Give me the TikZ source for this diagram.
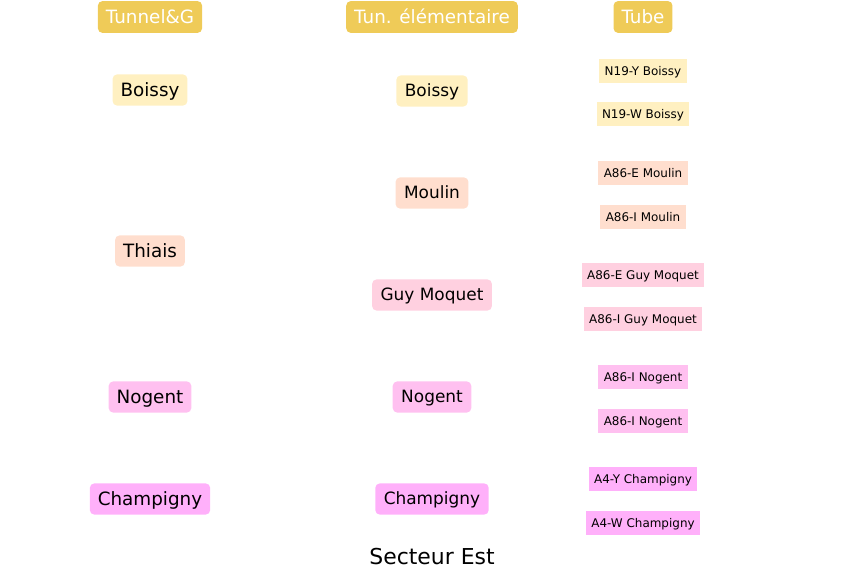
\documentclass[tikz,border=0pt]{standalone}
\usepackage{fontspec}
\setmainfont{DejaVu Sans}
\usetikzlibrary{positioning}
\definecolor{cEntete}{RGB}{239,203,88}
\definecolor{cBoissy}{RGB}{255,240,193}
\definecolor{cMoulin}{RGB}{255,222,206}
\definecolor{cGuyMoquet}{RGB}{255,208,224}
\definecolor{cNogent}{RGB}{255,192,240}
\definecolor{cChampigny}{RGB}{255,176,250}
\tikzset{
  entete/.style={fill=cEntete, text=white, rounded corners=4.5bp,
    font=\fontsize{18.4}{21}\selectfont, text height=16.9bp, text depth=4.3bp,
    inner xsep=8bp, inner ysep=5.3bp},
  tunnelg/.style={rounded corners=4.5bp, font=\fontsize{18.4}{21}\selectfont,
    text height=16.9bp, text depth=4.3bp, inner xsep=8bp, inner ysep=5bp},
  tunel/.style={rounded corners=4.5bp, font=\fontsize{17}{20}\selectfont,
    text height=15.6bp, text depth=4bp, inner xsep=8.5bp, inner ysep=5.8bp},
  tube/.style={font=\fontsize{12}{14}\selectfont,
    text height=11bp, text depth=2.8bp, inner xsep=5.3bp, inner ysep=5bp},
}
\begin{document}
\begin{tikzpicture}[x=1bp, y=-1bp]
      \useasboundingbox (0,0) rectangle (864,576);
      % en-tetes
      \node(tg) [entete] at (150,17) {Tunnel\&G};
      \node(te) [entete] at (432,17) {Tun. élémentaire};
      \node(tu) [entete] at (643,17) {Tube};

      % Tunnel&G
      \node(gboi) [tunnelg, fill=cBoissy] at (150,90) {Boissy};
      \node(gthi) [tunnelg, fill=cMoulin] at (150,251) {Thiais};
      \node(gnog) [tunnelg, fill=cNogent] at (150,397) {Nogent};
      \node(gcha) [tunnelg, fill=cChampigny] at (150,499) {Champigny};

      % Tun. elementaire
      \node(eboi) [tunel, fill=cBoissy] at (432,91) {Boissy};
      \node(emou) [tunel, fill=cMoulin] at (432,193) {Moulin};
      \node(eguy) [tunel, fill=cGuyMoquet] at (432,295) {Guy Moquet};
      \node(enog) [tunel, fill=cNogent] at (432,397) {Nogent};
      \node(echa) [tunel, fill=cChampigny] at (432,499) {Champigny};

      % Tube
      \node(tboiy) [tube, fill=cBoissy] at (643,71) {N19-Y Boissy};
      \node(tboiw) [tube, fill=cBoissy] at (643,114) {N19-W Boissy};
      \node(tmoue) [tube, fill=cMoulin] at (643,173) {A86-E Moulin};
      \node(tmoui) [tube, fill=cMoulin] at (643,217) {A86-I Moulin};
      \node(tguye) [tube, fill=cGuyMoquet] at (643,275) {A86-E Guy Moquet};
      \node(tguyi) [tube, fill=cGuyMoquet] at (643,319) {A86-I Guy Moquet};
      \node(tnog1) [tube, fill=cNogent] at (643,377) {A86-I Nogent};
      \node(tnog2) [tube, fill=cNogent] at (643,421) {A86-I Nogent};
      \node(tchay) [tube, fill=cChampigny] at (643,479) {A4-Y Champigny};
      \node(tchaw) [tube, fill=cChampigny] at (643,523) {A4-W Champigny};

      \node(titre) [font=\fontsize{22}{26}\selectfont] at (432,557) {Secteur Est};
    \end{tikzpicture}
\end{document}
